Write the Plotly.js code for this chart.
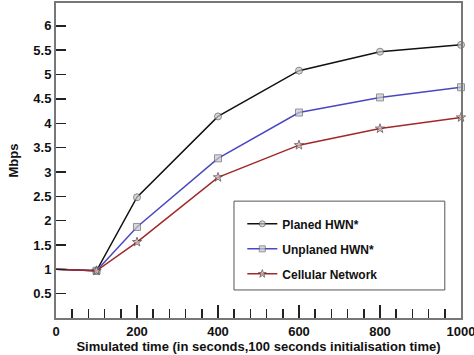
<!DOCTYPE html>
<html>
<head>
<meta charset="utf-8">
<script src="https://cdn.plot.ly/plotly-3.0.1.min.js"></script>
<style>html,body{margin:0;padding:0;background:#fff;}#chart{width:474px;height:355px;}</style>
</head>
<body>
<div id="chart"></div>
<script>
var times = [0, 100, 200, 400, 600, 800, 1000];
var planed = [1, 0.97, 2.48, 4.14, 5.08, 5.47, 5.61];
var unplaned = [1, 0.97, 1.87, 3.28, 4.22, 4.53, 4.74];
var cellular = [1, 0.97, 1.56, 2.89, 3.55, 3.89, 4.12];
var seriesNames = ['Planed HWN*', 'Unplaned HWN*', 'Cellular Network'];
var xTickVals = [0, 200, 400, 600, 800, 1000];
var xTickText = ['0', '200', '400', '600', '800', '1000'];
var yTickVals = [0.5, 1, 1.5, 2, 2.5, 3, 3.5, 4, 4.5, 5, 5.5, 6];
var yTickText = ['0.5', '1', '1.5', '2', '2.5', '3', '3.5', '4', '4.5', '5', '5.5', '6'];

var msize = [0, 7, 7, 7, 7, 7, 7];
function trace(y, name, color, symbol, edge, group) {
  return {
    x: times, y: y, name: name, type: 'scatter', mode: 'lines+markers',
    legendgroup: group,
    line: {color: color, width: 1.5},
    marker: {symbol: symbol, size: msize, color: '#c8c8c8', line: {color: edge, width: 1}},
    cliponaxis: false
  };
}
var data = [
  trace(planed, seriesNames[0], '#111111', 'circle', '#555555', 'a'),
  trace(unplaned, seriesNames[1], '#4848c0', 'square', '#666677', 'b'),
  trace(cellular, seriesNames[2], '#a02828', 'star', '#553333', 'c')
];
var fontFam = '"Liberation Sans", Arial, sans-serif';
var layout = {
  width: 474, height: 355,
  margin: {l: 56, r: 13, t: 3, b: 37},
  paper_bgcolor: '#ffffff', plot_bgcolor: '#ffffff',
  font: {family: fontFam, color: '#111', size: 13},
  showlegend: true,
  legend: {
    x: 0.46, y: 0.345, xanchor: 'left', yanchor: 'top',
    borderwidth: 0, bgcolor: 'rgba(0,0,0,0)',
    font: {family: fontFam, size: 12, color: '#111', weight: 'bold'},
    traceorder: 'grouped', tracegroupgap: 6
  },
  shapes: [{
    type: 'rect', xref: 'paper', yref: 'paper',
    x0: 0.4395, x1: 0.96, y0: 0.089, y1: 0.371,
    line: {color: '#555', width: 1}, fillcolor: '#ffffff', layer: 'above'
  }],
  xaxis: {
    range: [0, 1000], tickvals: xTickVals, ticktext: xTickText,
    ticks: 'inside', ticklen: 13, tickwidth: 1.5, tickcolor: '#222',
    ticklabeloverflow: 'allow',
    minor: {dtick: 40, tick0: 0, ticks: 'inside', ticklen: 9, tickwidth: 1.5, tickcolor: '#222', showgrid: false},
    showgrid: false, zeroline: false, showline: true, mirror: true, linecolor: '#777', linewidth: 2,
    tickfont: {family: fontFam, size: 13, weight: 'bold', color: '#111'},
    title: {text: 'Simulated time (in seconds,100 seconds initialisation time)', standoff: 4,
      font: {family: fontFam, size: 13, weight: 'bold', color: '#111'}}
  },
  yaxis: {
    range: [0, 6.47], tickvals: yTickVals, ticktext: yTickText,
    ticks: 'inside', ticklen: 10, tickwidth: 1.5, tickcolor: '#222',
    showgrid: false, zeroline: false, showline: true, mirror: true, linecolor: '#777', linewidth: 2,
    tickfont: {family: fontFam, size: 13, weight: 'bold', color: '#111'},
    title: {text: 'Mbps', standoff: 12, font: {family: fontFam, size: 13, weight: 'bold', color: '#111'}}
  }
};
Plotly.newPlot('chart', data, layout, {displayModeBar: false, staticPlot: true});
</script>
</body>
</html>
